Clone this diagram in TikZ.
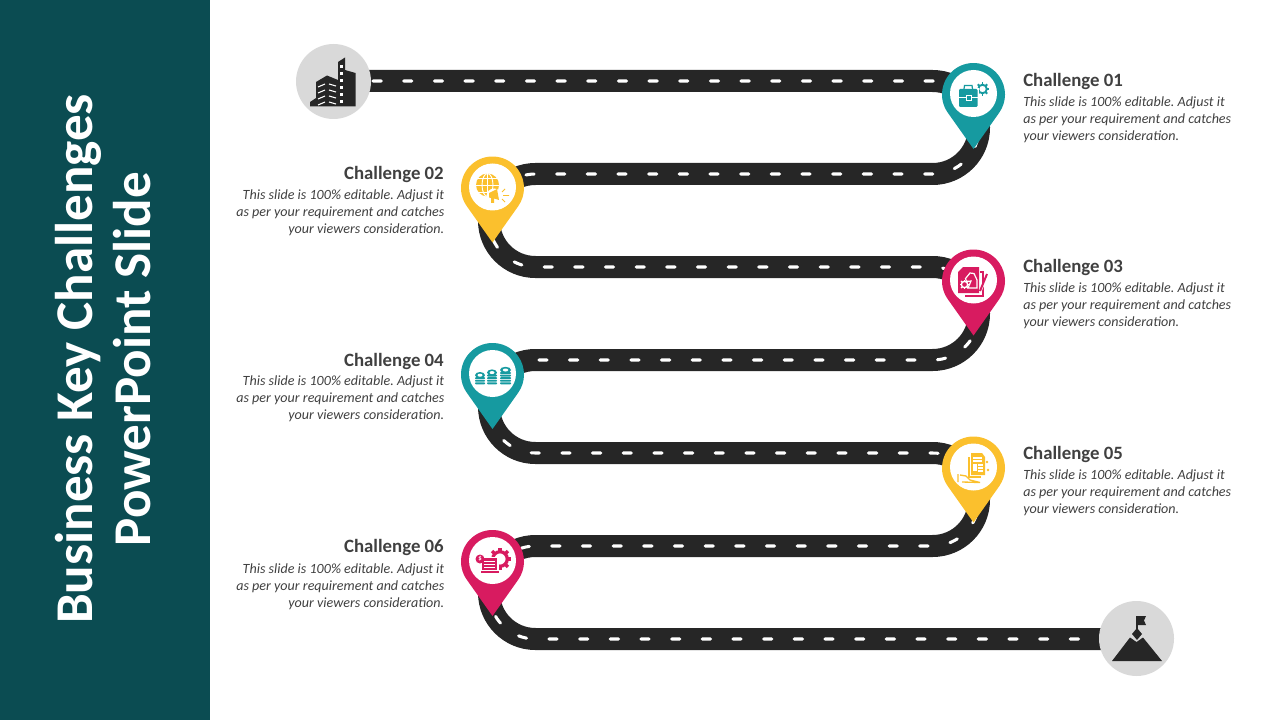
\documentclass[tikz,border=0pt]{standalone}
\usepackage{fontspec}
\setmainfont{Carlito}
\definecolor{side}{HTML}{0B4C52}
\definecolor{roadc}{HTML}{262626}
\definecolor{greyc}{HTML}{D9D9D9}
\definecolor{tealc}{HTML}{169AA0}
\definecolor{yelc}{HTML}{FBC02D}
\definecolor{pinkc}{HTML}{D81B60}
\definecolor{txtc}{HTML}{404040}
\newcommand{\pinshape}[3]{% x y colour
  \begin{scope}[shift={(#1,#2)}]
    \fill[#3] (0,54.5) -- (-25.7,18.2) arc[start angle=144.7,end angle=395.3,radius=31.5] -- cycle;
    \fill[white] (0,-1) circle[radius=23.5];
  \end{scope}}
\newcommand{\gearshape}[4]{% x y r colour
  \foreach \a in {0,45,...,315}{\draw[#4,line width=#3*0.22pt] (#1,#2) ++(\a:#3*0.7) -- ++(\a:#3*0.32);}
  \draw[#4,line width=#3*0.22pt] (#1,#2) circle[radius=#3*0.66];}
\newcommand{\coinstack}[5]{% x bottomY width n colour
  \foreach \i in {1,...,#4}{\fill[#5,rounded corners=0.6pt] (#1,#2-\i*2.6) rectangle ++(#3,1.9);}
  \fill[#5] (#1+#3/2,#2-#4*2.6-2) ellipse[x radius=#3/2,y radius=3.2];
  \fill[white] (#1+#3/2,#2-#4*2.6-2) ellipse[x radius=#3/4,y radius=1.5];}
\tikzset{
  road/.style={line width=16.5pt,roadc,rounded corners=34.8pt},
  lane/.style={line width=2.3pt,white,line cap=round,dash pattern=on 6.2pt off 16.8pt,rounded corners=34.8pt},
  disc/.style={circle,fill=greyc,minimum size=56.25pt,inner sep=0pt},
  head/.style={font=\fontsize{14.1}{16}\selectfont\bfseries,text=txtc,inner sep=0pt},
  rbody/.style={font=\fontsize{10.55}{12.75}\selectfont\itshape\frenchspacing,text=txtc,inner sep=0pt,align=left,anchor=west},
  lbody/.style={font=\fontsize{10.55}{12.75}\selectfont\itshape\frenchspacing,text=txtc,inner sep=0pt,align=right,anchor=east},
}
\begin{document}
\begin{tikzpicture}[x=0.75pt,y=-0.75pt]
\useasboundingbox (0,0) rectangle (1280,720);
\fill[side] (0,0) rectangle (210,720);
\node[rotate=90,align=center,text=white,font=\fontsize{39.8}{43.5}\selectfont\bfseries,inner sep=0pt] (title) at (103,359) {Business Key Challenges\\PowerPoint Slide};

% named bend points of the road
\coordinate (s) at (333.5,81);
\coordinate (ls) at (373,81);
\coordinate (b1) at (979,81);
\coordinate (b2) at (979,174);
\coordinate (b3) at (489,174);
\coordinate (b4) at (489,267);
\coordinate (b5) at (979,267);
\coordinate (b6) at (979,360);
\coordinate (b7) at (489,360);
\coordinate (b8) at (489,453);
\coordinate (b9) at (979,453);
\coordinate (b10) at (979,546);
\coordinate (b11) at (489,546);
\coordinate (b12) at (489,639);
\coordinate (e) at (1136,639);
\coordinate (le) at (1099,639);

\draw[road] (s) -- (b1) -- (b2) -- (b3) -- (b4) -- (b5) -- (b6) -- (b7) -- (b8) -- (b9) -- (b10) -- (b11) -- (b12) -- (e);
\draw[lane] (ls) -- (b1) -- (b2) -- (b3) -- (b4) -- (b5) -- (b6) -- (b7) -- (b8) -- (b9) -- (b10) -- (b11) -- (b12) -- (le);

% start
\node[disc] (start) at (333.5,81.5) {};
\fill[roadc] (310,106.5) -- (310,102) -- (316,98) -- (316,82) -- (327,75.5) -- (338,80) -- (338,62) -- (345,57.5) -- (345,70) -- (355.5,73) -- (355.5,106.5) -- cycle;
\foreach \y in {65,72,79,86,93,100}{\fill[white] (339.8,\y) rectangle ++(3,3);}
\foreach \y in {84,90,96,102}{
  \draw[white,line width=0.8pt] (318,\y+3) -- (325,\y);
  \draw[white,line width=0.8pt] (329,\y) -- (336,\y+2);}

% finish
\node[disc] (finish) at (1136.5,638.5) {};
\fill[roadc] (1112,661) -- (1130,637.5) -- (1136.5,642) -- (1143,637.5) -- (1162,661) -- cycle;
\fill[roadc] (1137,628) -- (1142,634) -- (1137,640) -- (1132,634) -- cycle;
\fill[roadc] (1135.5,616) rectangle (1137.5,630);
\fill[roadc] (1137,616) -- (1146,616) -- (1144,620.5) -- (1146,625) -- (1137,625) -- cycle;

% pins
\pinshape{973.5}{94.5}{tealc}
\pinshape{492.5}{188}{yelc}
\pinshape{973.5}{281}{pinkc}
\pinshape{492.5}{374.5}{tealc}
\pinshape{973.5}{468}{yelc}
\pinshape{492.5}{561.5}{pinkc}

% icon 01 gear and briefcase
\gearshape{982.5}{89}{6.5}{tealc}
\fill[white] (958,88) rectangle (978.5,108);
\fill[tealc,rounded corners=0.8pt] (959,89) rectangle (977.5,107);
\draw[tealc,line width=0.9pt] (964,89) -- (964.5,85.5) -- (972,85.5) -- (972.5,89);
\draw[white,line width=0.7pt] (959,97.5) -- (966,97.5) (971,97.5) -- (977.5,97.5);
\draw[white,line width=0.6pt,fill=tealc] (966,95.5) rectangle (971,100);

% icon 02 globe and megaphone
\fill[yelc] (487.5,185) circle[radius=11.5];
\draw[white,line width=0.7pt] (476,185) -- (499,185) (487.5,173.5) -- (487.5,196.5) (478,178) -- (497,178) (478,192) -- (497,192);
\draw[white,line width=0.7pt] (487.5,185) ellipse[x radius=5.5,y radius=11.5];
\fill[white] (494,196) circle[radius=7.5];
\fill[yelc] (489,193) -- (497,189) -- (499,200) -- (494,198.5) -- (494,203) -- (491,203) -- (491,198) -- (489,197.5) -- cycle;
\draw[yelc,line width=0.7pt] (502,192) -- (505,189) (503,195.5) -- (509,195.5) (502,199) -- (505,202);

% icon 03 document, horse, gear, pencil
\draw[pinkc,line width=0.9pt] (980,272) -- (983,272) -- (983,296) -- (965,296);
\fill[pinkc] (963,267) -- (979,267) -- (979,293) -- (958,293) -- (958,272) -- cycle;
\draw[white,line width=0.9pt] (968,288) -- (971,281) -- (966.5,281.5) -- (965.5,278.5) -- (970,273) -- (974,273.5) -- (977,280) -- (977,288) -- cycle;
\gearshape{964.5}{284.5}{4.8}{white}
\draw[white,line width=1.2pt] (980.5,292) -- (988,274);
\draw[pinkc,line width=1.5pt] (980,291) -- (987,274);

% icon 04 coins
\coinstack{475}{385}{10}{3}{tealc}
\coinstack{487}{385}{10}{4}{tealc}
\coinstack{500}{385}{11}{5}{tealc}

% icon 05 document and hand
\fill[yelc] (971,453) -- (982,453) -- (985,457) -- (985,475) -- (971,475) -- cycle;
\draw[yelc,line width=0.8pt] (969,457) -- (969,477) -- (981,477);
\draw[white,line width=0.8pt] (973,458) -- (982,458) (973,461) -- (982,461) (978,465) -- (983,465) (978,468) -- (983,468) (978,471) -- (983,471);
\fill[white] (973,464) rectangle (976.5,471);
\fill[yelc] (987,462) circle[radius=1.4] (988,470) circle[radius=1.4];
\draw[yelc,line width=1pt] (958,474) -- (958,482) (960,475) -- (966,476) -- (970,480) -- (980,482.5) (962,482) -- (980,482.5);

% icon 06 gear, box, coin
\gearshape{500}{559}{11}{pinkc}
\fill[white] (481,557) rectangle (499,575);
\fill[pinkc] (482,558) rectangle (497,570);
\fill[pinkc] (480.5,571) rectangle (498.5,573);
\foreach \y in {561,564,567}{\fill[white] (484,\y) rectangle (495,\y+1);}
\fill[pinkc] (480,559) circle[radius=4.5];
\node[text=white,font=\fontsize{5}{5}\selectfont\bfseries,inner sep=0pt] (dollar) at (480,559) {\$};

% labels
\node[head,anchor=west] (t1) at (1023,81) {Challenge 01};
\node[rbody] (d1) at (1023,120) {This slide is 100\% editable. Adjust it\\as per your requirement and catches\\your viewers consideration.};
\node[head,anchor=east] (t2) at (444,174) {Challenge 02};
\node[lbody] (d2) at (444.5,213) {This slide is 100\% editable. Adjust it\\as per your requirement and catches\\your viewers consideration.};
\node[head,anchor=west] (t3) at (1023,267) {Challenge 03};
\node[rbody] (d3) at (1023,306) {This slide is 100\% editable. Adjust it\\as per your requirement and catches\\your viewers consideration.};
\node[head,anchor=east] (t4) at (444,361) {Challenge 04};
\node[lbody] (d4) at (444.5,399) {This slide is 100\% editable. Adjust it\\as per your requirement and catches\\your viewers consideration.};
\node[head,anchor=west] (t5) at (1023,454) {Challenge 05};
\node[rbody] (d5) at (1023,493) {This slide is 100\% editable. Adjust it\\as per your requirement and catches\\your viewers consideration.};
\node[head,anchor=east] (t6) at (444,547) {Challenge 06};
\node[lbody] (d6) at (444.5,587) {This slide is 100\% editable. Adjust it\\as per your requirement and catches\\your viewers consideration.};
\end{tikzpicture}
\end{document}
